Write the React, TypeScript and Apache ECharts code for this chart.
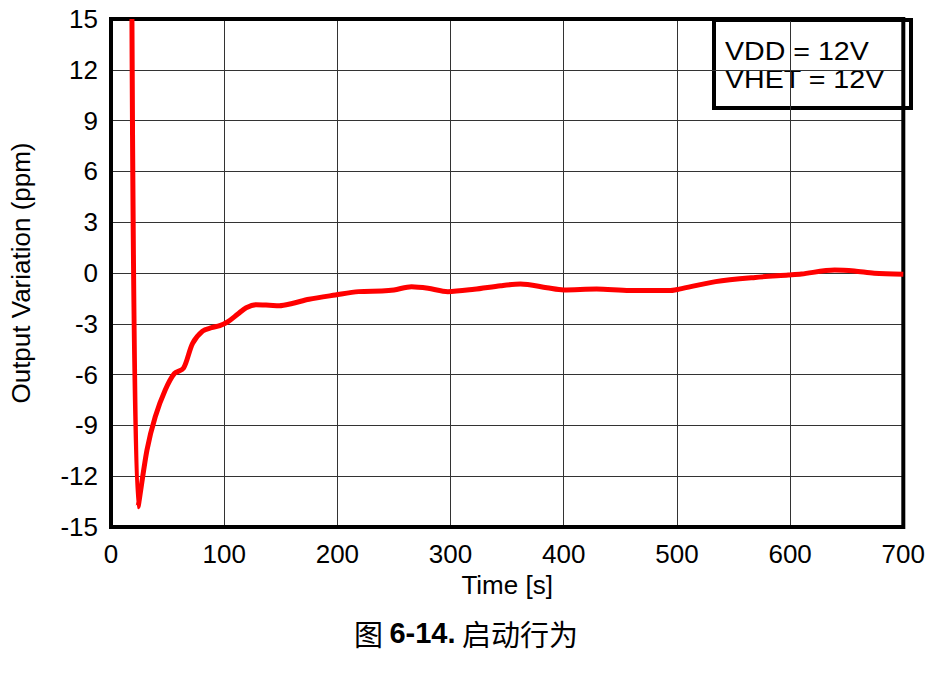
import React, { useEffect, useRef } from "react";
import * as echarts from "echarts";

const timeS = [18.5, 23.9, 31.8, 39.1, 47.9, 56.1, 64, 72.1, 80.9, 88.8, 96.1, 103.4, 112.1, 119.4, 128.2, 139.9, 148.7, 160, 175, 198.3, 218.8, 239.2, 250, 265.5, 280.1, 297.6, 320.9, 344.3, 361.8, 385.2, 399.8, 429, 458.2, 493.2, 502, 534.2, 569.2, 598.4, 610, 639.3, 656.8, 674.3, 700];
const variationPpm = [15, -13.8, -10.45, -8.49, -6.91, -5.93, -5.63, -4.15, -3.43, -3.23, -3.11, -2.87, -2.42, -2.05, -1.87, -1.9, -1.93, -1.8, -1.55, -1.3, -1.1, -1.06, -1.0, -0.81, -0.9, -1.1, -0.96, -0.75, -0.65, -0.87, -1.0, -0.95, -1.04, -1.04, -0.95, -0.51, -0.26, -0.12, -0.06, 0.18, 0.12, -0.02, -0.08];
const legendLines = ["VDD = 12V", "VHET = 12V"];
const xTitle = "Time [s]";
const yTitle = "Output Variation (ppm)";

const FONT = "'Liberation Sans', Arial, sans-serif";

export default function App() {
  const ref = useRef<HTMLDivElement>(null);
  useEffect(() => {
    document.body.style.margin = "0";
    const chart = echarts.init(ref.current!, null, { renderer: "svg" });
    chart.setOption({
      animation: false,
      backgroundColor: "#fff",
      grid: {
        left: 107,
        top: 19,
        right: 22,
        bottom: 155,
        show: true,
        borderColor: "#000",
        borderWidth: 4,
        backgroundColor: "transparent",
        z: 3,
      },
      xAxis: {
        type: "value",
        min: 0,
        max: 700,
        interval: 100,
        name: xTitle,
        nameLocation: "middle",
        nameGap: 45,
        nameTextStyle: { fontFamily: FONT, fontSize: 26, color: "#000" },
        axisLine: { show: false },
        axisTick: { show: false },
        axisLabel: { fontFamily: FONT, fontSize: 26, color: "#000", margin: 14 },
        splitLine: { show: true, lineStyle: { color: "#333", width: 1 } },
      },
      yAxis: {
        type: "value",
        min: -15,
        max: 15,
        interval: 3,
        name: yTitle,
        nameLocation: "middle",
        nameGap: 77,
        nameRotate: 90,
        nameTextStyle: { fontFamily: FONT, fontSize: 26, color: "#000" },
        axisLine: { show: false },
        axisTick: { show: false },
        axisLabel: { fontFamily: FONT, fontSize: 26, color: "#000", margin: 13 },
        splitLine: { show: true, lineStyle: { color: "#333", width: 1 } },
      },
      series: [
        {
          type: "line",
          data: timeS.map((t, i) => [t, variationPpm[i]]),
          showSymbol: false,
          smooth: 0.3,
          lineStyle: { color: "#ff0000", width: 5 },
          clip: true,
          z: 4,
        },
      ],
      graphic: [
        {
          type: "group",
          z: 10,
          children: [
            {
              type: "rect",
              shape: { x: 714, y: 20, width: 197, height: 88 },
              style: { fill: "#fff", stroke: "#000", lineWidth: 4 },
            },
            {
              type: "text",
              x: 725,
              y: 51,
              scaleX: 1.1,
              style: { text: legendLines[0], font: `26px ${FONT}`, fill: "#000", verticalAlign: "middle" },
            },
            {
              type: "text",
              x: 725,
              y: 79,
              scaleX: 1.1,
              style: { text: legendLines[1], font: `26px ${FONT}`, fill: "#000", verticalAlign: "middle" },
            },
          ],
        },
        {
          type: "text",
          x: 466,
          y: 633,
          style: {
            text: "{a|图 }{b|6-14.}{a| 启动行为}",
            align: "center",
            verticalAlign: "middle",
            rich: {
              a: { fontFamily: "'Noto Sans CJK SC', sans-serif", fontSize: 29, fill: "#000" },
              b: { fontFamily: FONT, fontSize: 29, fontWeight: "bold", fill: "#000" },
            },
          },
        },
      ],
    });
    return () => chart.dispose();
  }, []);
  return <div ref={ref} style={{ width: 928, height: 682 }} />;
}
